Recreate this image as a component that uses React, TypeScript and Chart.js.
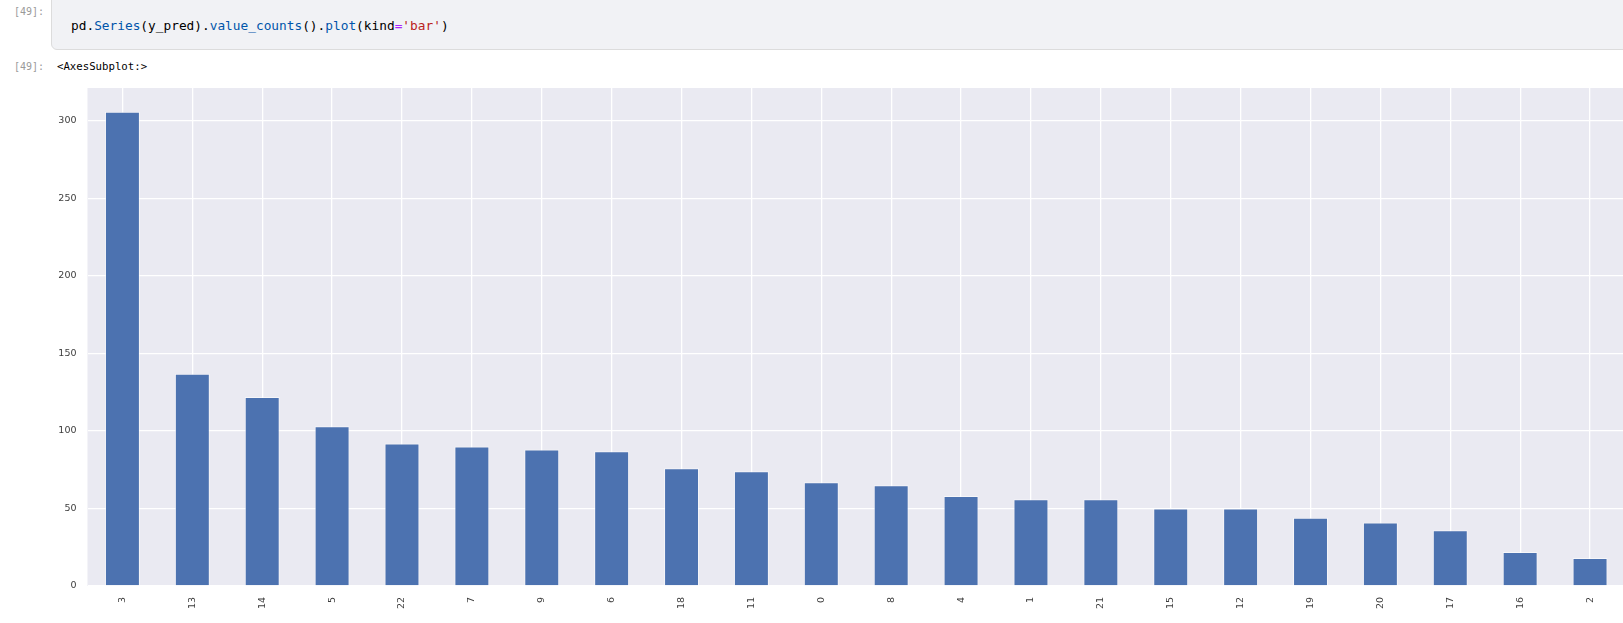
import React, { useEffect, useRef } from "react";
import { Chart, registerables } from "chart.js";

Chart.register(...registerables);

// value_counts() output, already sorted descending
const categories = ["3", "13", "14", "5", "22", "7", "9", "6", "18", "11", "0", "8", "4", "1", "21", "15", "12", "19", "20", "17", "16", "2"];
const counts = [306, 137, 122, 103, 92, 90, 88, 87, 76, 74, 67, 65, 58, 56, 56, 50, 50, 44, 41, 36, 22, 18];
const yStep = 50;

const plotBackground = {
  id: "plotBackground",
  beforeDraw(chart: any) {
    const { ctx, chartArea } = chart;
    ctx.save();
    ctx.fillStyle = "#eaeaf2";
    ctx.fillRect(chartArea.left, chartArea.top, chartArea.right - chartArea.left, chartArea.bottom - chartArea.top);
    ctx.restore();
  },
};

const mono = "'DejaVu Sans Mono', 'Liberation Mono', monospace";

const BarChart = () => {
  const chartRef = useRef<HTMLCanvasElement | null>(null);

  useEffect(() => {
    const ctx = chartRef.current!.getContext("2d")!;
    const myChart = new Chart(ctx, {
      type: "bar",
      data: {
        labels: categories,
        datasets: [
          {
            data: counts,
            backgroundColor: "#4c72b0", // seaborn deep blue
            borderColor: "rgba(255,255,255,0.55)",
            borderWidth: 1,
            categoryPercentage: 1,
            barPercentage: 0.5,
          },
        ],
      },
      options: {
        animation: false,
        responsive: true,
        maintainAspectRatio: false,
        layout: { padding: { top: 8, right: 0, bottom: 0, left: 0 } },
        plugins: {
          legend: { display: false },
          tooltip: { enabled: false },
        },
        scales: {
          x: {
            offset: true,
            border: { display: false },
            grid: { color: "#ffffff", lineWidth: 1.3, offset: false, drawTicks: false },
            ticks: {
              minRotation: 90,
              maxRotation: 90,
              padding: 11,
              color: "#3d3d3d",
              font: { family: "'DejaVu Sans', sans-serif", size: 9.5 },
            },
            afterFit: (scale: any) => {
              scale.height = 37;
              scale.paddingLeft = 0;
              scale.paddingRight = 0;
            },
          },
          y: {
            min: 0,
            max: Math.max(...counts) * 1.05,
            border: { display: false },
            grid: { color: "#ffffff", lineWidth: 1.3, drawTicks: false },
            ticks: {
              stepSize: yStep,
              includeBounds: false,
              padding: 11,
              color: "#3d3d3d",
              font: { family: "'DejaVu Sans', sans-serif", size: 9.5 },
            },
            afterFit: (scale: any) => {
              scale.width = 87.5;
              scale.paddingTop = 0;
              scale.paddingBottom = 0;
            },
          },
        },
      },
      plugins: [plotBackground],
    });

    return () => {
      myChart.destroy();
    };
  }, []);

  return (
    <div style={{ position: "absolute", left: 0, top: 80, width: 1625, height: 543 }}>
      <canvas ref={chartRef}></canvas>
    </div>
  );
};

const App = () => {
  return (
    <div style={{ position: "fixed", inset: 0, overflow: "hidden", background: "#ffffff" }}>
      {/* input cell */}
      <div style={{ position: "absolute", left: 14, top: 6, fontFamily: mono, fontSize: 10, color: "#9a9a9a" }}>[49]:</div>
      <div
        style={{
          position: "absolute",
          left: 51,
          top: -10,
          width: 1700,
          height: 60,
          background: "#f1f2f5",
          border: "1px solid #dcdcdc",
          borderRadius: 6,
          boxSizing: "border-box",
        }}
      />
      <div style={{ position: "absolute", left: 71, top: 18, fontFamily: mono, fontSize: 12.8, color: "#000", whiteSpace: "pre" }}>
        pd.<span style={{ color: "#0055aa" }}>Series</span>(y_pred).<span style={{ color: "#0055aa" }}>value_counts</span>().
        <span style={{ color: "#0055aa" }}>plot</span>(kind<span style={{ color: "#aa22ff" }}>=</span>
        <span style={{ color: "#ba2121" }}>'bar'</span>)
      </div>
      {/* output */}
      <div style={{ position: "absolute", left: 14, top: 61, fontFamily: mono, fontSize: 10, color: "#9a9a9a" }}>[49]:</div>
      <div style={{ position: "absolute", left: 57, top: 60, fontFamily: mono, fontSize: 10.7, color: "#000" }}>&lt;AxesSubplot:&gt;</div>
      <BarChart />
    </div>
  );
};

export default App;
